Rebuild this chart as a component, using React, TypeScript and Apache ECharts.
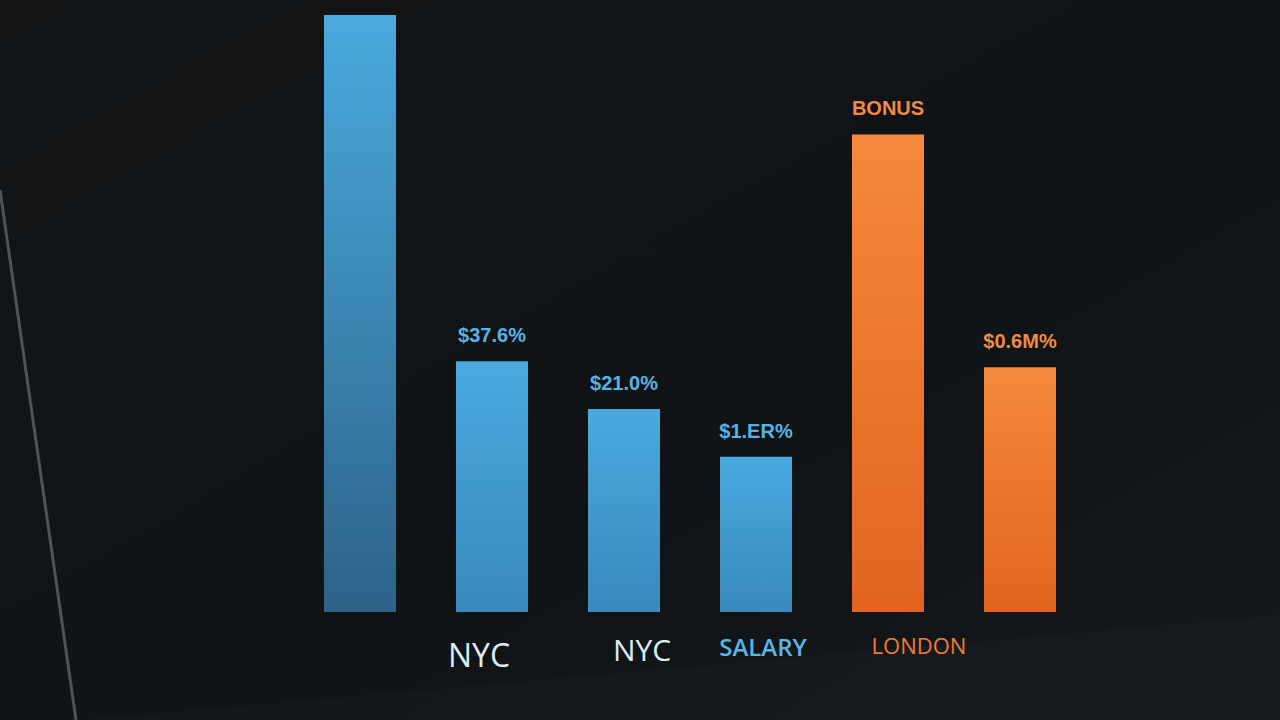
import React, { useEffect, useRef } from "react";
import * as echarts from "echarts";

const categories = ["", "NYC", "NYC", "SALARY", "LONDON", ""];
const values = [100, 42, 34, 26, 80, 41];
const valueLabels = ["", "$37.6%", "$21.0%", "$1.ER%", "BONUS", "$0.6M%"];
const groups = ["blue", "blue", "blue", "blue", "orange", "orange"];

const palette: Record<string, { top: string; bottom: string; label: string }> = {
  blue: { top: "#4aaade", bottom: "#3889bd", label: "#5ab2e2" },
  orange: { top: "#f5893b", bottom: "#e2641f", label: "#f08a45" },
};

const catStyles = ["c0", "nyc1", "nyc2", "salary", "london", "c5"];

export default function App() {
  const ref = useRef<HTMLDivElement>(null);
  useEffect(() => {
    if (!ref.current) return;
    const chart = echarts.init(ref.current, null, { renderer: "svg" });
    const data = values.map((v, i) => {
      const p = palette[groups[i]];
      return {
        value: v,
        itemStyle: {
          color: new echarts.graphic.LinearGradient(0, 0, 0, 1, [
            { offset: 0, color: p.top },
            { offset: 1, color: i === 0 ? "#2d6288" : p.bottom },
          ]),
        },
        label: {
          show: valueLabels[i] !== "",
          formatter: valueLabels[i],
          color: p.label,
        },
      };
    });
    chart.setOption({
      animation: false,
      backgroundColor: new echarts.graphic.LinearGradient(0, 0, 1, 1, [
        { offset: 0, color: "#121416" },
        { offset: 0.6, color: "#101315" },
        { offset: 1, color: "#16191b" },
      ]),
      grid: { left: 294, right: 194, top: 15, bottom: 108 },
      xAxis: {
        type: "category",
        data: categories,
        axisLine: { show: false },
        axisTick: { show: false },
        axisLabel: {
          margin: 22,
          formatter: (v: string, i: number) => (v ? `{${catStyles[i]}|${v}}` : ""),
          rich: {
            nyc1: { fontSize: 32, color: "#dcecf4", fontFamily: "Open Sans", padding: [4, 26, 0, 0] },
            nyc2: { fontSize: 30, color: "#dcecf4", fontFamily: "Open Sans", padding: [0, 0, 0, 36] },
            salary: { fontSize: 24, color: "#5ab6e6", fontFamily: "Open Sans", fontWeight: 600, padding: [0, 0, 2, 14] },
            london: { fontSize: 22, color: "#f07a33", fontFamily: "Open Sans", padding: [0, 0, 26, 62] },
          },
        },
      },
      yAxis: {
        type: "value",
        min: 0,
        max: 100,
        show: false,
        splitLine: { show: false },
      },
      series: [
        {
          type: "bar",
          data,
          barWidth: 72,
          label: {
            show: true,
            position: "top",
            distance: 16,
            fontSize: 20,
            fontWeight: "bold",
            fontFamily: "Liberation Sans",
          },
        },
      ],
      graphic: [
        {
          type: "line",
          shape: { x1: 0, y1: 190, x2: 76, y2: 720 },
          style: { stroke: "#4a5459", lineWidth: 3 },
          silent: true,
        },
        {
          type: "polygon",
          shape: { points: [[80, 720], [1280, 615], [1280, 720]] },
          style: { fill: "rgba(40,44,48,0.18)" },
          silent: true,
        },
      ],
    });
    return () => chart.dispose();
  }, []);
  return (
    <div
      ref={ref}
      style={{ position: "fixed", left: 0, top: 0, width: 1280, height: 720 }}
    />
  );
}
